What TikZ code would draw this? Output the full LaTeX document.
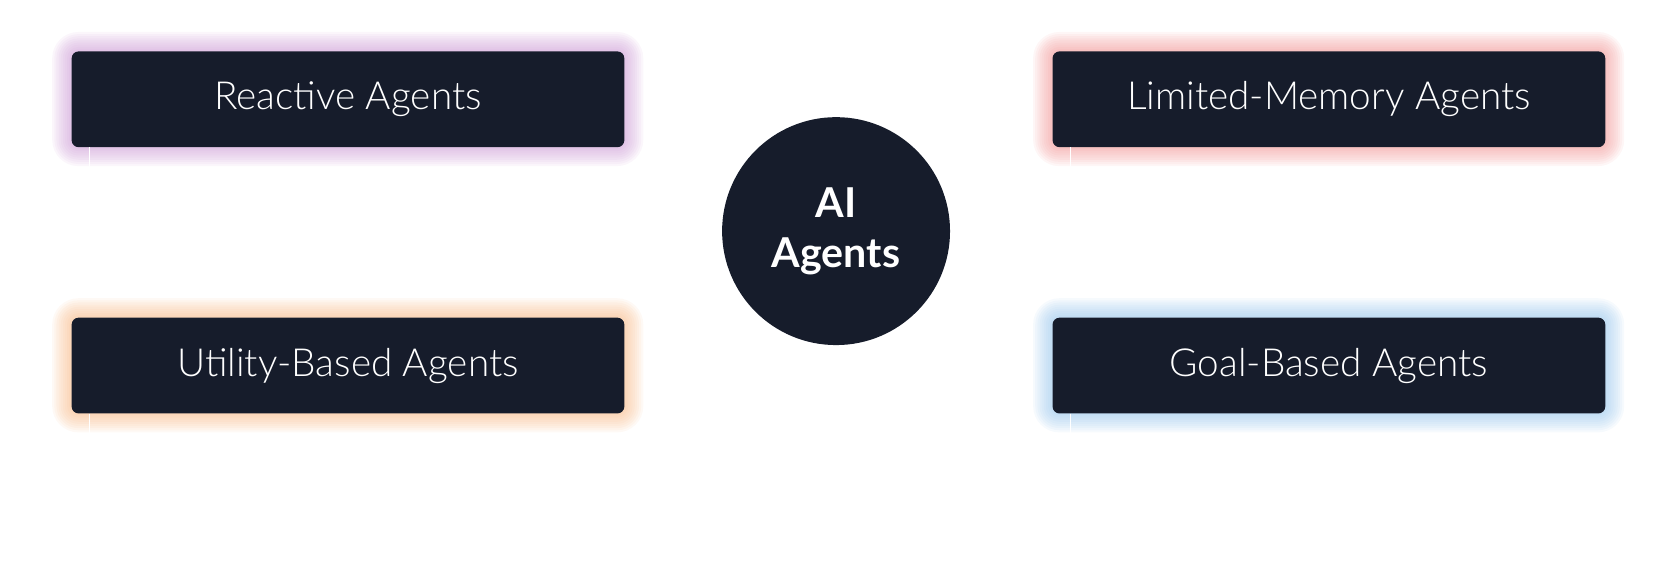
\documentclass[tikz,border=0pt]{standalone}
\usepackage{fontspec}
\setmainfont{Lato}[UprightFont=* Light,BoldFont=* Bold]
\definecolor{navy}{HTML}{161C2B}
\definecolor{glowpurple}{HTML}{C78FD0}
\definecolor{glowred}{HTML}{F08A8A}
\definecolor{gloworange}{HTML}{F7B27A}
\definecolor{glowblue}{HTML}{8CBFEA}
\newcommand{\glowbox}[4]{% name, x, y, colour
  \foreach \g in {18,16,...,2}
    \fill[#4, opacity=0.08, rounded corners=\g*0.03cm+0.2cm]
      (#2-\g,#3-\g) rectangle (#2+519+\g,#3+90+\g);
}
\begin{document}
\begin{tikzpicture}[x=0.03cm,y=-0.03cm,
  agentbox/.style={fill=navy, rounded corners=0.2cm, text=white,
    minimum width=519*0.03cm, minimum height=90*0.03cm, inner sep=0pt,
    font=\fontsize{31}{36}\selectfont, anchor=north west},
  hubnode/.style={circle, fill=navy, text=white, minimum size=214*0.03cm,
    font=\bfseries\fontsize{33}{40}\selectfont, align=center, inner sep=0pt},
  stem/.style={white, line width=0.8pt}]
  \useasboundingbox (0,0) rectangle (1568,541);
  \glowbox{react}{67}{48}{glowpurple}
  \glowbox{limit}{988}{48}{glowred}
  \glowbox{util}{67}{298}{gloworange}
  \glowbox{goal}{988}{298}{glowblue}
  \node[agentbox] (react) at (67,48) {Reactive Agents};
  \node[agentbox] (limit) at (988,48) {Limited-Memory Agents};
  \node[agentbox] (util) at (67,298) {Utility-Based Agents};
  \node[agentbox] (goal) at (988,298) {Goal-Based Agents};
  \node[hubnode] (hub) at (785,217) {AI\\Agents};
  % short stems under the boxes
  \foreach \b in {react,limit,util,goal}
    \draw[stem] ([xshift=17*0.03cm]\b.south west) -- ++(0,30);
\end{tikzpicture}
\end{document}
